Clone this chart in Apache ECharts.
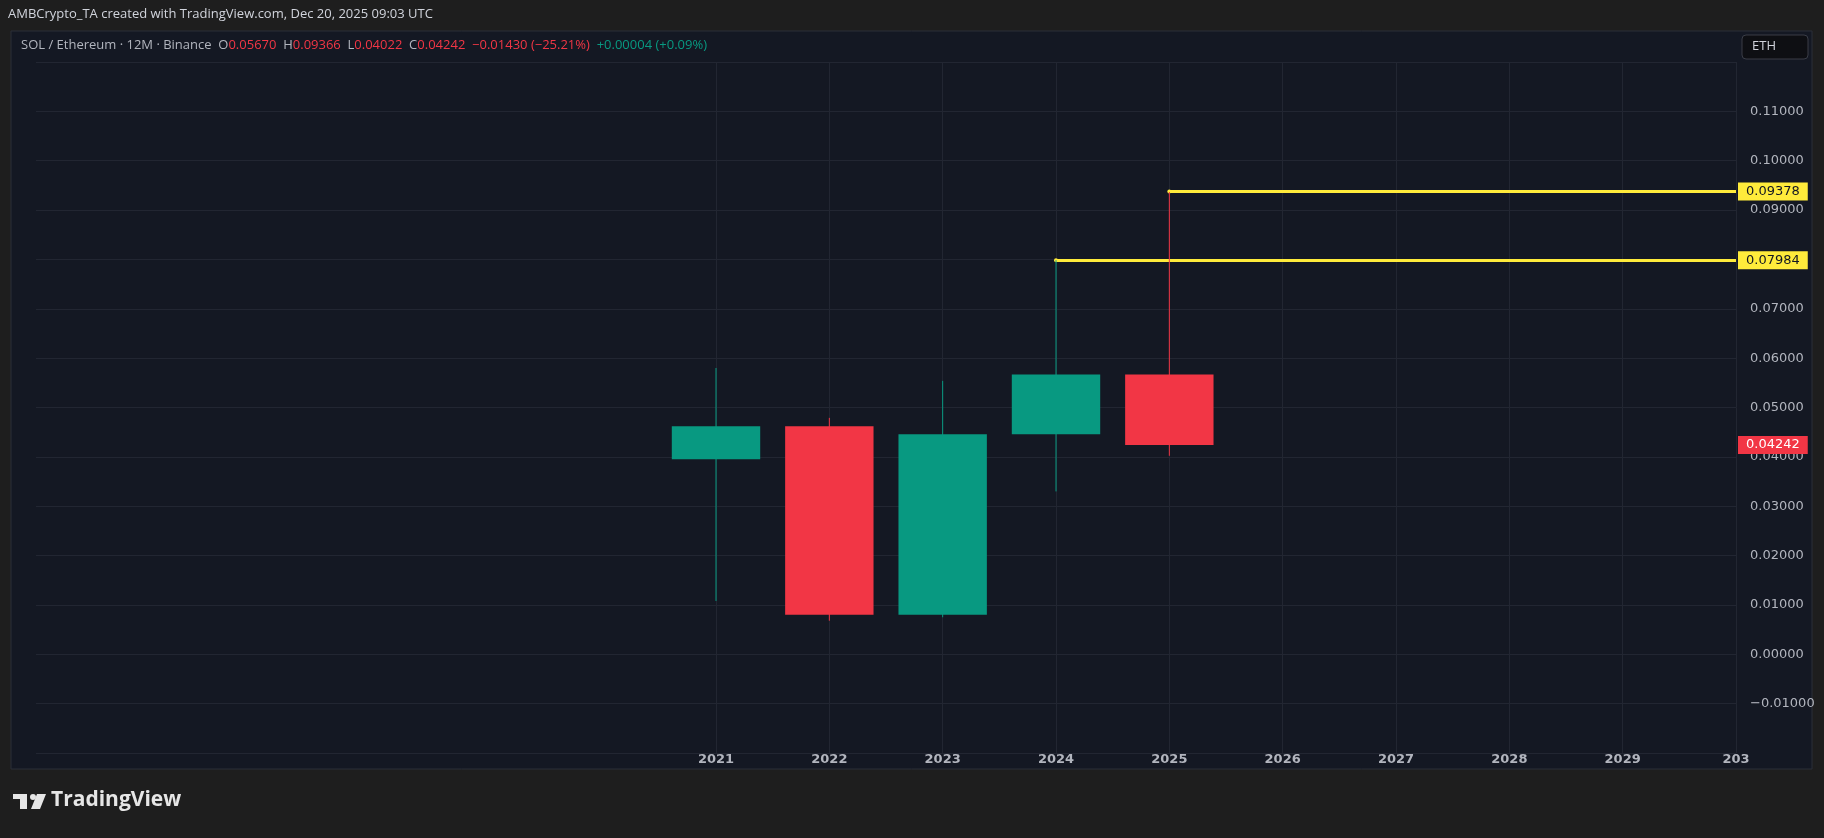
<!DOCTYPE html>
<html><head><meta charset="utf-8">
<script src="https://cdn.jsdelivr.net/npm/echarts@6/dist/echarts.min.js"></script>
<style>html,body{margin:0;padding:0;background:#1e1e1e;}#c{width:1824px;height:838px;}</style>
</head><body><div id="c"></div>
<script>
const years = [2021, 2022, 2023, 2024, 2025];
const opens = [0.0395, 0.0462, 0.0080, 0.0446, 0.05670];
const closes = [0.0462, 0.0080, 0.0446, 0.0567, 0.04242];
const highs = [0.0580, 0.0479, 0.0554, 0.07984, 0.09366];
const lows = [0.0108, 0.0068, 0.0075, 0.0330, 0.04022];
const gridYears = [2021, 2022, 2023, 2024, 2025, 2026, 2027, 2028, 2029, 2030];
const levelStarts = [2024, 2025];
const levels = [0.07984, 0.09378];
const lastPrice = 0.04242;

const GREEN = '#089981', RED = '#f23645', YEL = '#ffeb3b';
const font = '"DejaVu Sans", sans-serif';
const chart = echarts.init(document.getElementById('c'));
const candleData = years.map((y, i) => [y, opens[i], closes[i], lows[i], highs[i]]);

chart.setOption({
  backgroundColor: '#1e1e1e',
  animation: false,
  graphic: [
    {type: 'rect', shape: {x: 11, y: 31, width: 1801, height: 738}, style: {fill: '#141823', stroke: '#2a2e39', lineWidth: 1}, z: -10},
    {type: 'text', left: 8, top: 8, style: {text: 'AMBCrypto_TA created with TradingView.com, Dec 20, 2025 09:03 UTC', fill: '#d1d4dc', font: '13px "Open Sans", sans-serif'}},
    {type: 'text', left: 21, top: 39, style: {
      text: '{n|SOL / Ethereum · 12M · Binance  }{n|O}{r|0.05670  }{n|H}{r|0.09366  }{n|L}{r|0.04022  }{n|C}{r|0.04242  }{r|−0.01430 (−25.21%)  }{g|+0.00004 (+0.09%)}',
      rich: {n: {fill: '#b2b5be', font: '13px "Open Sans", sans-serif'}, r: {fill: RED, font: '13px "Open Sans", sans-serif'}, g: {fill: GREEN, font: '13px "Open Sans", sans-serif'}}}},
    {type: 'rect', shape: {x: 1742, y: 35, width: 66, height: 24, r: 4}, style: {fill: '#0e0f13', stroke: '#3a3d47'}},
    {type: 'text', left: 1752, top: 40, style: {text: 'ETH', fill: '#d1d4dc', font: '13px "Open Sans", sans-serif'}},
    {type: 'rect', shape: {x: 13, y: 794, width: 14, height: 5}, style: {fill: '#e6e6e6'}},
    {type: 'rect', shape: {x: 20, y: 794, width: 7, height: 15}, style: {fill: '#e6e6e6'}},
    {type: 'circle', shape: {cx: 33, cy: 797, r: 3}, style: {fill: '#e6e6e6'}},
    {type: 'polygon', shape: {points: [[37, 794], [46, 794], [40, 809], [31, 809]]}, style: {fill: '#e6e6e6'}},
    {type: 'text', left: 51, top: 790, style: {text: 'TradingView', fill: '#e6e6e6', font: 'bold 21px "Open Sans", sans-serif'}}
  ],
  grid: {left: 36, right: 88, top: 62, bottom: 85},
  xAxis: {
    type: 'value', min: 2015, max: 2030, interval: 1,
    axisLine: {show: false}, axisTick: {show: false}, splitLine: {show: false},
    axisLabel: {color: '#b2b5be', fontFamily: font, fontWeight: 'bold', fontSize: 13, margin: 0,
      formatter: v => v < 2021 ? '' : (v === 2030 ? '203' : String(v))}
  },
  yAxis: {
    type: 'value', position: 'right', min: -0.02, max: 0.12, interval: 0.01,
    axisLine: {show: false}, axisTick: {show: false},
    splitLine: {lineStyle: {color: '#222632'}},
    axisLabel: {color: '#b2b5be', fontFamily: font, fontSize: 13, margin: 14,
      formatter: v => {const r = Math.round(v * 100) / 100; if (r >= 0.115 || r <= -0.015) return ''; return (r < 0 ? '−' : '') + Math.abs(r).toFixed(5);}}
  },
  series: [
    {
      type: 'custom', data: candleData, z: 5,
      renderItem: (params, api) => {
        const x = api.value(0), o = api.value(1), c = api.value(2), l = api.value(3), h = api.value(4);
        const col = c >= o ? GREEN : RED;
        const pO = api.coord([x, o]), pC = api.coord([x, c]), pL = api.coord([x, l]), pH = api.coord([x, h]);
        const w = api.size([0.78, 0])[0];
        const top = Math.min(pO[1], pC[1]), bot = Math.max(pO[1], pC[1]);
        return {type: 'group', children: [
          {type: 'line', shape: {x1: pH[0], y1: pH[1], x2: pL[0], y2: pL[1]}, style: {stroke: col, lineWidth: 1}},
          {type: 'rect', shape: {x: pO[0] - w / 2, y: top, width: w, height: bot - top}, style: {fill: col}}
        ]};
      },
      markLine: {
        silent: true, symbol: 'none',
        lineStyle: {color: '#222632', type: 'solid', width: 1},
        label: {show: false},
        data: gridYears.map(y => ({xAxis: y}))
      }
    },
    {
      type: 'line', data: [], z: 6,
      markLine: {
        silent: true, symbol: ['circle', 'none'], symbolSize: 4,
        lineStyle: {color: YEL, type: 'solid', width: 3},
        label: {show: true, position: 'end', distance: 2, color: '#131722', backgroundColor: YEL, padding: [3, 8, 2, 8], fontFamily: font, fontSize: 13, formatter: p => p.data.v},
        data: levels.map((v, i) => [{coord: [levelStarts[i], v], v: v.toFixed(5)}, {coord: [2030, v]}])
      }
    },
    {
      type: 'line', data: [], z: 7,
      markLine: {
        silent: true, symbol: 'none',
        lineStyle: {color: 'rgba(0,0,0,0)', width: 1},
        label: {show: true, position: 'end', distance: 2, color: '#ffffff', backgroundColor: RED, padding: [3, 8, 2, 8], fontFamily: font, fontSize: 13, formatter: () => lastPrice.toFixed(5)},
        data: [[{coord: [2029.5, lastPrice]}, {coord: [2030, lastPrice]}]]
      }
    }
  ]
});
</script></body></html>
